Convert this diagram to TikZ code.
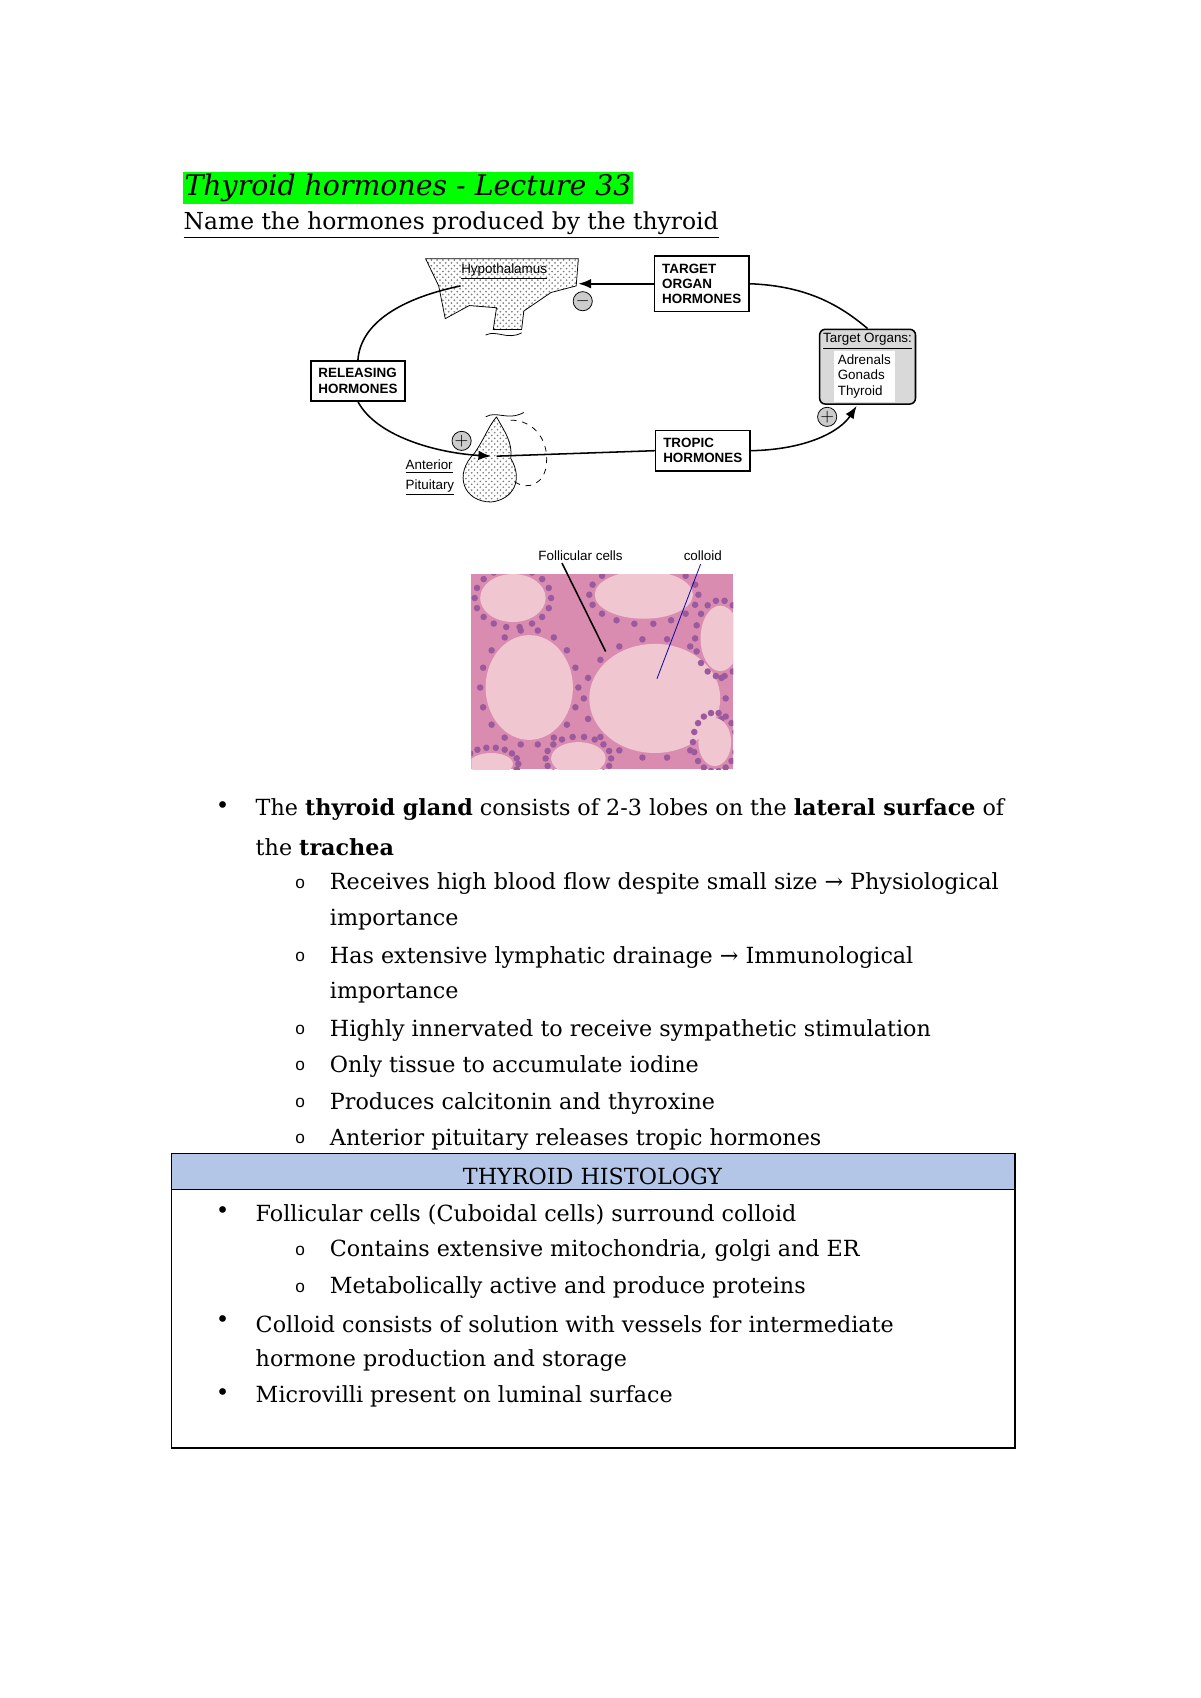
\documentclass[tikz,border=0pt]{standalone}
\usepackage{fontspec}
\setmainfont{DejaVu Serif}
\newfontfamily\dsans{Liberation Sans}
\usetikzlibrary{patterns,arrows.meta}
\definecolor{hl}{HTML}{00FF00}
\definecolor{hdr}{HTML}{B4C6E7}
\definecolor{tissue}{HTML}{D98BB0}
\definecolor{coll}{HTML}{F0C6D0}
\definecolor{nuc}{HTML}{9B5A9E}
\begin{document}
\begin{tikzpicture}[x=0.02cm,y=-0.02cm,
  txt/.style={anchor=west,inner sep=0pt,font=\fontsize{11.6}{13}\selectfont},
  bul/.style={anchor=center,inner sep=0pt,font=\fontsize{12}{13}\selectfont},
  sbul/.style={anchor=center,inner sep=0pt,font=\dsans\fontsize{9}{10}\selectfont},
  lab/.style={draw,thick,fill=white,align=left,inner sep=4pt,font=\dsans\bfseries\fontsize{7}{8}\selectfont},
  small/.style={inner sep=0pt,font=\dsans\fontsize{7}{8}\selectfont},
  sign/.style={circle,draw,fill=gray!40,minimum size=10pt,inner sep=0pt,font=\bfseries\fontsize{9}{9}\selectfont},
  loop/.style={thick}]
\useasboundingbox (0,0) rectangle (1100,1556);
% title
\node[fill=hl,anchor=west,inner sep=1pt,font=\itshape\fontsize{14.8}{16}\selectfont] (title) at (167,172) {Thyroid hormones - Lecture 33};
\node[anchor=west,inner sep=0pt,font=\fontsize{12.2}{14}\selectfont] (sub) at (168,206) {\underline{Name the hormones produced by the thyroid}};
% diagram
\path[draw,pattern=crosshatch dots,pattern color=gray] (390,237) -- (530,237) -- (528,262) -- (505,268) -- (480,285) -- (478,302) -- (452,302) -- (455,282) -- (430,280) -- (408,292) -- (402,262) -- cycle;
\node[small] (hyp) at (462,249) {\underline{Hypothalamus}};
\draw (445,307) .. controls (455,302) and (465,312) .. (478,305);
\node[lab] (toh) at (643,260) {TARGET\\ORGAN\\HORMONES};
\node[lab] (rh) at (328,349) {RELEASING\\HORMONES};
\node[lab] (trh) at (644,413) {TROPIC\\HORMONES};
\node[draw,thick,fill=gray!30,rounded corners=3pt,minimum width=50pt,minimum height=39pt,inner sep=0pt] (tob) at (795,336) {};
\node[small,anchor=north] (tol) at (795,305) {\underline{Target Organs:}};
\node[small,fill=white,align=left,inner sep=2pt] (tot) at (792,345) {Adrenals\\Gonads\\Thyroid};
% pituitary
\path[draw,pattern=crosshatch dots,pattern color=gray] (455,382) .. controls (462,395) and (470,405) .. (468,420) .. controls (480,440) and (470,458) .. (450,460) .. controls (425,460) and (415,435) .. (435,415) .. controls (445,400) and (448,390) .. (455,382);
\draw[dashed] (468,385) .. controls (490,385) and (505,405) .. (500,430) .. controls (495,448) and (478,448) .. (470,440);
\draw (445,382) .. controls (455,376) and (465,386) .. (480,378);
\node[small,align=left] (ap) at (394,438) {\underline{Anterior}\\[2pt]\underline{Pituitary}};
\node[sign] (minus) at (534,276) {$-$};
\node[sign] (plus1) at (423,404) {$+$};
\node[sign] (plus2) at (758,382) {$+$};
\coordinate (hypin) at (422,262);
\coordinate (hypout) at (530,260);
\coordinate (pitin) at (450,418);
\coordinate (pitc) at (455,418);
% connectors
\draw[loop,-Latex] (toh.west) -- (hypout);
\draw[loop] (trh.west) -- (pitc);
\draw[loop] (hypin) .. controls (360,275) and (330,300) .. (rh.north);
\draw[loop,-Latex] (rh.south) .. controls (345,400) and (400,415) .. (pitin);
\draw[loop] (toh.east) .. controls (740,262) and (770,280) .. (tob.north);
\draw[loop,-Latex] (trh.east) .. controls (740,412) and (770,395) .. (785,372);
% micrograph
\fill[tissue] (432,526) rectangle (672,705);
\begin{scope}
\clip (432,526) rectangle (672,705);
\foreach \cx/\cy/\rx/\ry in {600/640/60/50, 485/630/40/48, 470/548/30/22, 590/545/45/22, 660/585/18/30, 655/680/15/22, 530/695/25/15, 450/700/20/10}{
  \fill[coll] (\cx,\cy) ellipse [x radius=\rx, y radius=\ry];
  \foreach \a in {0,20,...,340}{
    \fill[nuc] ({\cx+(\rx+5)*cos(\a)},{\cy+(\ry+5)*sin(\a)}) circle (3);
  }
}
\end{scope}
\node[small] (fc) at (532,509) {Follicular cells};
\node[small] (co) at (644,509) {colloid};
\coordinate (fcend) at (555,597);
\coordinate (coend) at (602,622);
\draw[thick] (515,516) -- (fcend);
\draw[blue!70!black] (642,517) -- (coend);
% bullets
\node[bul] at (204,740) {•};
\node[txt] at (234,742) {The \textbf{thyroid gland} consists of 2-3 lobes on the \textbf{lateral surface} of};
\node[txt] at (234,776) {the \textbf{trachea}};
\foreach \y/\t in {810/{Receives high blood flow despite small size → Physiological},
 843/{importance},877/{Has extensive lymphatic drainage → Immunological},910/{importance},
 944/{Highly innervated to receive sympathetic stimulation},977/{Only tissue to accumulate iodine},
 1011/{Produces calcitonin and thyroxine},1044/{Anterior pituitary releases tropic hormones}}{
  \node[txt] at (302,\y) {\t};}
\foreach \y in {810,877,944,977,1011,1044}{\node[sbul] at (275,\y) {o};}
% table
\draw[thick,fill=hdr] (157,1057) rectangle (930,1090);
\node[font=\fontsize{11.6}{13}\selectfont] (th) at (543,1078) {THYROID HISTOLOGY};
\draw[thick] (157,1090) rectangle (930,1327);
\node[bul] at (204,1111) {•};
\node[txt] at (234,1113) {Follicular cells (Cuboidal cells) surround colloid};
\node[sbul] at (275,1146) {o};
\node[txt] at (302,1146) {Contains extensive mitochondria, golgi and ER};
\node[sbul] at (275,1180) {o};
\node[txt] at (302,1180) {Metabolically active and produce proteins};
\node[bul] at (204,1211) {•};
\node[txt] at (234,1213) {Colloid consists of solution with vessels for intermediate};
\node[txt] at (234,1247) {hormone production and storage};
\node[bul] at (204,1278) {•};
\node[txt] at (234,1280) {Microvilli present on luminal surface};
\end{tikzpicture}
\end{document}
